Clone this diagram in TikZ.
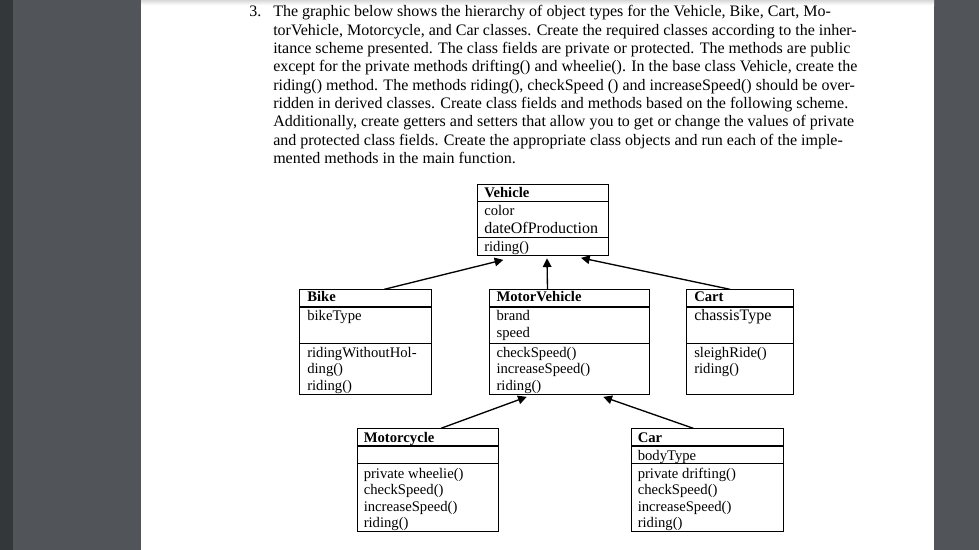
\documentclass[tikz,border=0pt]{standalone}
\usepackage{fontspec}
\setmainfont{Liberation Serif}
\usetikzlibrary{arrows.meta,calc}
\definecolor{darkstrip}{HTML}{33373A}
\definecolor{sidegray}{HTML}{515559}
\begin{document}
\begin{tikzpicture}[x=0.75pt,y=-0.75pt,
  classbox/.style 2 args={draw, line width=0.8pt, inner sep=0pt, anchor=north west,
    minimum width=#1*0.75pt, minimum height=#2*0.75pt},
  sep/.style={line width=0.8pt},
  txt/.style={anchor=base west, inner sep=0pt, font=\fontsize{11}{13}\selectfont},
  wtxt/.style={anchor=base west, inner sep=0pt, font=\fontsize{12}{14}\selectfont},
  ttl/.style={txt, font=\fontsize{11}{13}\selectfont\bfseries},
  para/.style={anchor=base west, inner sep=0pt, font=\fontsize{12}{14}\selectfont},
  inh/.style={line width=1pt, -{Triangle[length=6.5pt,width=6.5pt]}}]
% background
\useasboundingbox (0,0) rectangle (979,550);
\fill[sidegray] (0,0) rectangle (979,550);
\fill[darkstrip] (0,0) rectangle (13,550);
\fill[white] (141,0) rectangle (934,550);
\fill[top color=black!15, bottom color=white] (141,0) rectangle (934,5);
% paragraph
\node[para] (num) at (249,16.7) {3.};
\node[para] (p1) at (273,16.7) {The graphic below shows the hierarchy of object types for the Vehicle, Bike, Cart, Mo-};
\node[para] (p2) at (273,35.05) {torVehicle, Motorcycle, and Car classes. Create the required classes according to the inher-};
\node[para] (p3) at (273,53.4) {itance scheme presented. The class fields are private or protected. The methods are public};
\node[para] (p4) at (273,71.75) {except for the private methods drifting() and wheelie(). In the base class Vehicle, create the};
\node[para] (p5) at (273,90.1) {riding() method. The methods riding(), checkSpeed () and increaseSpeed() should be over-};
\node[para] (p6) at (273,108.45) {ridden in derived classes. Create class fields and methods based on the following scheme.};
\node[para] (p7) at (273,126.8) {Additionally, create getters and setters that allow you to get or change the values of private};
\node[para] (p8) at (273,145.15) {and protected class fields. Create the appropriate class objects and run each of the imple-};
\node[para] (p9) at (273,163.5) {mented methods in the main function.};
% class boxes
\node[classbox={131}{71}] (vehicle) at (477,184.3) {};
\node[classbox={132}{105}] (bike) at (299.3,289.3) {};
\node[classbox={160}{105}] (motor) at (489.3,289.3) {};
\node[classbox={106.7}{105}] (cart) at (686,289.3) {};
\node[classbox={141.6}{102.7}] (moto) at (356.7,428.3) {};
\node[classbox={152.6}{102.7}] (car) at (630.7,428.3) {};
% separators
\foreach \b/\a/\m in {vehicle/17.3/53, bike/17.7/54.6, motor/17.7/54.6, cart/17.7/54.6, moto/17.7/35.4, car/17.7/35.4}{
  \draw[sep] ($(\b.north west)+(0,\a)$) -- ($(\b.north east)+(0,\a)$);
  \draw[sep] ($(\b.north west)+(0,\m)$) -- ($(\b.north east)+(0,\m)$);
}
% Vehicle
\node[ttl] (vt) at (484,197) {Vehicle};
\node[txt] (va1) at (484,215) {color};
\node[wtxt] (va2) at (484,233) {dateOfProduction};
\node[txt] (vm1) at (484,251) {riding()};
% Bike
\node[ttl] (bt) at (307,301) {Bike};
\node[txt] (ba1) at (307,320) {bikeType};
\node[txt] (bm1) at (307,357) {ridingWithoutHol-};
\node[txt] (bm2) at (307,373.5) {ding()};
\node[txt] (bm3) at (307,390) {riding()};
% MotorVehicle
\node[ttl] (mt) at (496.3,301) {MotorVehicle};
\node[txt] (ma1) at (496.3,320) {brand};
\node[txt] (ma2) at (496.3,337.3) {speed};
\node[txt] (mm1) at (496.3,357) {checkSpeed()};
\node[txt] (mm2) at (496.3,373.5) {increaseSpeed()};
\node[txt] (mm3) at (496.3,390) {riding()};
% Cart
\node[ttl] (ct) at (694,301) {Cart};
\node[wtxt] (ca1) at (694,320) {chassisType};
\node[txt] (cm1) at (694,357) {sleighRide()};
\node[txt] (cm2) at (694,373.5) {riding()};
% Motorcycle
\node[ttl] (mct) at (363.5,442.7) {Motorcycle};
\node[txt] (mcm1) at (363.5,478.3) {private wheelie()};
\node[txt] (mcm2) at (363.5,494.8) {checkSpeed()};
\node[txt] (mcm3) at (363.5,511.2) {increaseSpeed()};
\node[txt] (mcm4) at (363.5,527.6) {riding()};
% Car
\node[ttl] (crt) at (637.5,442.7) {Car};
\node[txt] (cra1) at (637.5,460) {bodyType};
\node[txt] (crm1) at (637.5,478.3) {private drifting()};
\node[txt] (crm2) at (637.5,494.8) {checkSpeed()};
\node[txt] (crm3) at (637.5,511.2) {increaseSpeed()};
\node[txt] (crm4) at (637.5,527.6) {riding()};
% inheritance arrows
\draw[inh] ($(bike.north west)+(85,0)$) -- ($(vehicle.south west)+(26.3,3.5)$);
\draw[inh] ($(motor.north west)+(58.2,0)$) -- ($(vehicle.south west)+(70,2)$);
\draw[inh] ($(cart.north west)+(44,0)$) -- ($(vehicle.south west)+(104,1.5)$);
\draw[inh] ($(moto.north west)+(84.3,0)$) -- ($(motor.south west)+(37.4,1.5)$);
\draw[inh] ($(car.north west)+(62.6,0)$) -- ($(motor.south west)+(114,1.5)$);
\end{tikzpicture}
\end{document}
